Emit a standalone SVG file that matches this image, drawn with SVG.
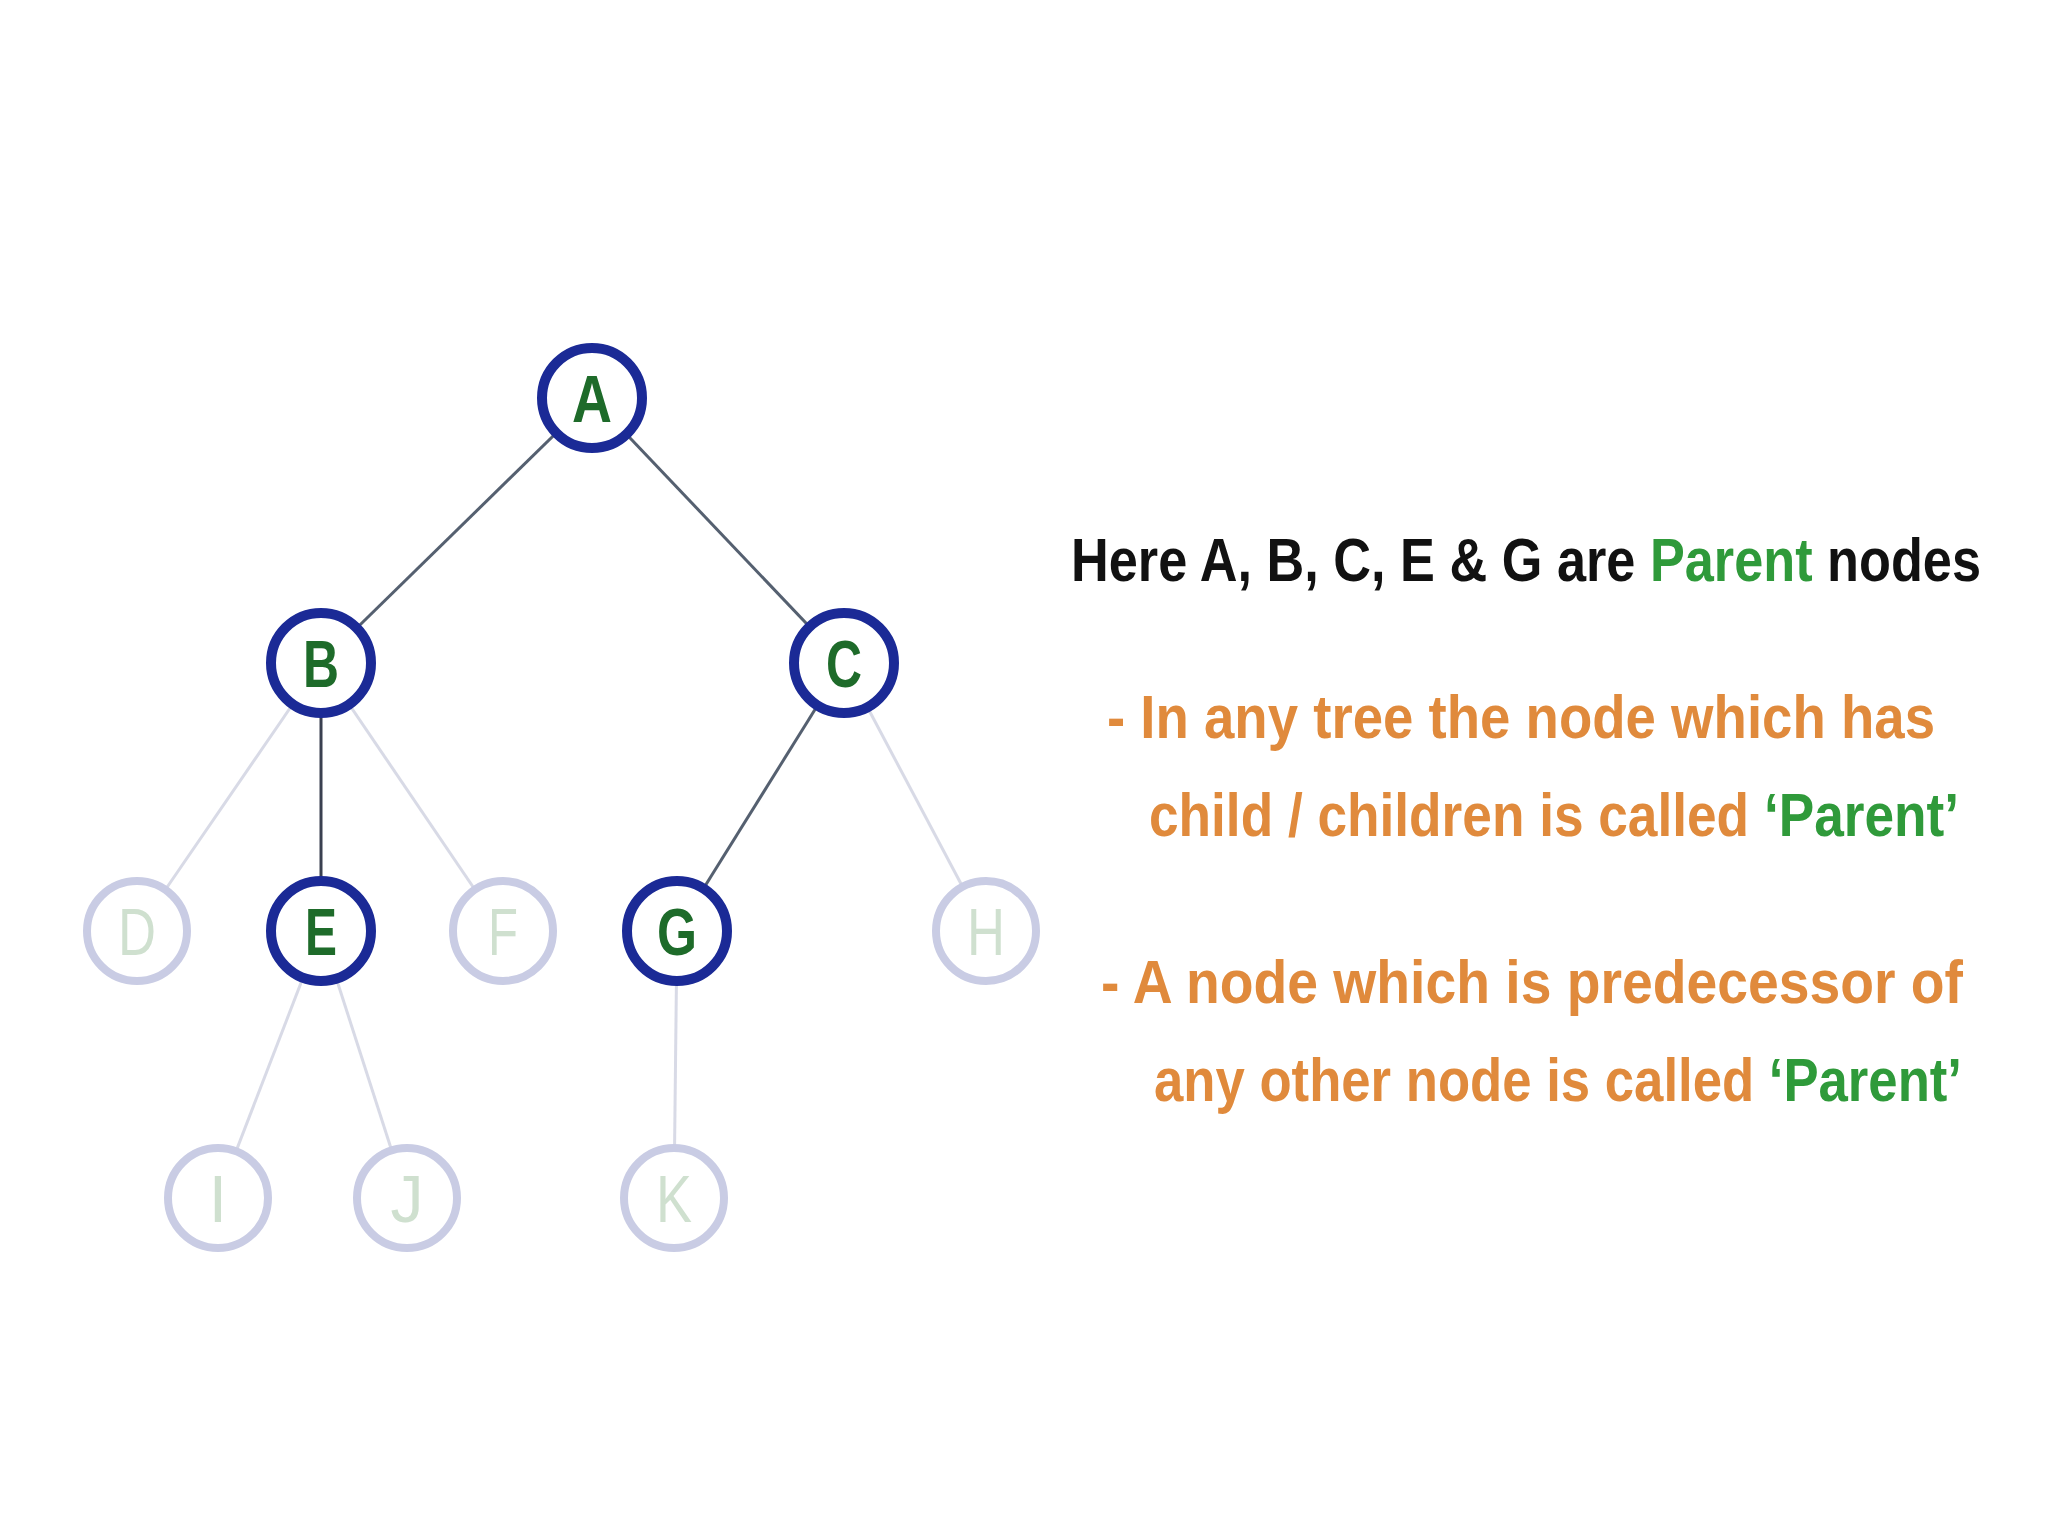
<svg xmlns="http://www.w3.org/2000/svg" width="2048" height="1536" viewBox="0 0 2048 1536">
<style>
.dk{fill:#fff;stroke:#1b2a96;stroke-width:10}
.lt{fill:#fff;stroke:#c9cce4;stroke-width:8}
.dl{font-family:"Liberation Sans",Arial,sans-serif;font-size:66px;font-weight:bold;fill:#1e6b2a;text-anchor:middle}
.ll{font-family:"Liberation Sans",Arial,sans-serif;font-size:66px;fill:#cfe0cf;text-anchor:middle}
.t{font-family:"Liberation Sans",Arial,sans-serif;font-size:62px;font-weight:bold}
.o{fill:#e08a3c}.g{fill:#2f9a3a}
</style>
<rect width="2048" height="1536" fill="#fff"/>
<g id="connectors" stroke-width="3">
<line x1="592" y1="398" x2="321" y2="663" stroke="#556070"/>
<line x1="592" y1="398" x2="844" y2="663" stroke="#556070"/>
<line x1="321" y1="663" x2="321" y2="931" stroke="#3a4050"/>
<line x1="844" y1="663" x2="677" y2="931" stroke="#556070"/>
<line x1="321" y1="663" x2="137" y2="931" stroke="#d8dae6"/>
<line x1="321" y1="663" x2="503" y2="931" stroke="#d8dae6"/>
<line x1="844" y1="663" x2="986" y2="931" stroke="#d8dae6"/>
<line x1="321" y1="931" x2="218" y2="1198" stroke="#d8dae6"/>
<line x1="321" y1="931" x2="407" y2="1198" stroke="#d8dae6"/>
<line x1="677" y1="931" x2="674" y2="1198" stroke="#d8dae6"/>
</g>
<g id="nA"><circle class="dk" cx="592" cy="398" r="50"/><text class="dl" x="592" y="422" textLength="40" lengthAdjust="spacingAndGlyphs">A</text></g>
<g id="nB"><circle class="dk" cx="321" cy="663" r="50"/><text class="dl" x="321" y="687" textLength="36" lengthAdjust="spacingAndGlyphs">B</text></g>
<g id="nC"><circle class="dk" cx="844" cy="663" r="50"/><text class="dl" x="844" y="687" textLength="36" lengthAdjust="spacingAndGlyphs">C</text></g>
<g id="nD"><circle class="lt" cx="137" cy="931" r="50"/><text class="ll" x="137" y="955" textLength="38" lengthAdjust="spacingAndGlyphs">D</text></g>
<g id="nE"><circle class="dk" cx="321" cy="931" r="50"/><text class="dl" x="321" y="955" textLength="32" lengthAdjust="spacingAndGlyphs">E</text></g>
<g id="nF"><circle class="lt" cx="503" cy="931" r="50"/><text class="ll" x="503" y="955" textLength="30" lengthAdjust="spacingAndGlyphs">F</text></g>
<g id="nG"><circle class="dk" cx="677" cy="931" r="50"/><text class="dl" x="677" y="955" textLength="40" lengthAdjust="spacingAndGlyphs">G</text></g>
<g id="nH"><circle class="lt" cx="986" cy="931" r="50"/><text class="ll" x="986" y="955" textLength="38" lengthAdjust="spacingAndGlyphs">H</text></g>
<g id="nI"><circle class="lt" cx="218" cy="1198" r="50"/><text class="ll" x="218" y="1222">I</text></g>
<g id="nJ"><circle class="lt" cx="407" cy="1198" r="50"/><text class="ll" x="407" y="1222">J</text></g>
<g id="nK"><circle class="lt" cx="674" cy="1198" r="50"/><text class="ll" x="674" y="1222" textLength="36" lengthAdjust="spacingAndGlyphs">K</text></g>
<g id="text">
<text class="t" x="1071" y="581" textLength="910" lengthAdjust="spacingAndGlyphs" fill="#111">Here A, B, C, E &amp; G are <tspan class="g">Parent</tspan> nodes</text>
<text class="t o" x="1107" y="738" textLength="828" lengthAdjust="spacingAndGlyphs">-  In any tree the node which has</text>
<text class="t o" x="1149" y="836" textLength="810" lengthAdjust="spacingAndGlyphs">child / children is called <tspan class="g">‘Parent’</tspan></text>
<text class="t o" x="1101" y="1003" textLength="862" lengthAdjust="spacingAndGlyphs">-  A node which is  predecessor of</text>
<text class="t o" x="1154" y="1101" textLength="808" lengthAdjust="spacingAndGlyphs">any other node is called <tspan class="g">‘Parent’</tspan></text>
</g>
</svg>
